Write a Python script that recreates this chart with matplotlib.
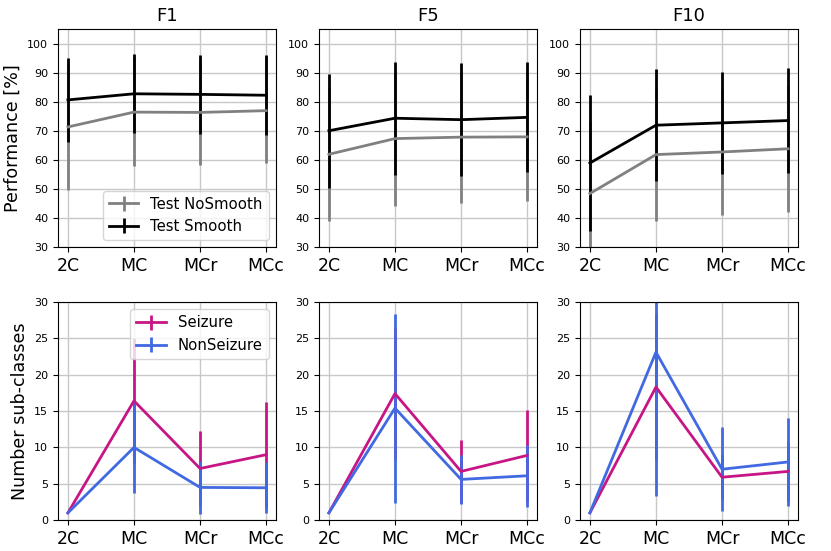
import matplotlib
matplotlib.use("Agg")
import matplotlib.pyplot as plt
import numpy as np

categories = ["2C", "MC", "MCr", "MCc"]
titles = ["F1", "F5", "F10"]

# Performance (top row): mean and std for each panel
nosmooth_mean = [[71.4, 76.5, 76.4, 77.0],
                 [62.0, 67.4, 67.9, 68.0],
                 [48.5, 61.9, 62.8, 63.9]]
nosmooth_err = [[21.5, 18.5, 18.0, 18.0],
                [23.0, 23.0, 22.6, 22.0],
                [25.0, 22.7, 21.8, 21.6]]
smooth_mean = [[80.7, 82.8, 82.6, 82.3],
               [70.1, 74.4, 73.9, 74.7],
               [59.0, 72.0, 72.8, 73.6]]
smooth_err = [[14.5, 13.6, 13.5, 13.8],
              [19.6, 19.4, 19.4, 18.9],
              [23.5, 19.3, 17.5, 18.0]]

# Number of sub-classes (bottom row)
seiz_mean = [[1.0, 16.4, 7.1, 9.0],
             [1.0, 17.4, 6.7, 8.9],
             [1.0, 18.3, 5.9, 6.7]]
seiz_err = [[0.0, 8.7, 5.1, 7.3],
            [0.0, 9.0, 4.3, 6.3],
            [0.0, 10.0, 3.0, 4.0]]
nonseiz_mean = [[1.0, 10.0, 4.5, 4.45],
                [1.0, 15.4, 5.6, 6.1],
                [1.0, 23.1, 7.0, 8.0]]
nonseiz_err = [[0.0, 6.2, 3.6, 3.5],
               [0.0, 13.0, 3.4, 4.3],
               [0.0, 19.8, 5.8, 6.0]]

fig, axes = plt.subplots(2, 3, figsize=(8.31, 5.51), dpi=100)
fig.subplots_adjust(left=0.0698, right=0.9603, top=0.947, bottom=0.056,
                    wspace=0.197, hspace=0.25)

x = np.arange(len(categories))
for i in range(3):
    ax = axes[0, i]
    ax.errorbar(x, nosmooth_mean[i], yerr=nosmooth_err[i], color="gray",
                lw=2, elinewidth=2, label="Test NoSmooth")
    ax.errorbar(x, smooth_mean[i], yerr=smooth_err[i], color="black",
                lw=2, elinewidth=2, label="Test Smooth")
    ax.set_ylim(30, 105)
    ax.set_yticks(range(30, 101, 10))
    ax.set_xticks(x)
    ax.set_xticklabels(categories, fontsize=12.5)
    ax.tick_params(axis="y", labelsize=8)
    ax.grid(True, color="#c8c8c8", lw=1)
    ax.set_axisbelow(True)
    ax.set_title(titles[i], fontsize=13)
    if i == 0:
        ax.set_ylabel("Performance [%]", fontsize=12.6)
        ax.legend(loc="lower right", fontsize=10.7)

    ax = axes[1, i]
    ax.errorbar(x, seiz_mean[i], yerr=seiz_err[i], color="mediumvioletred",
                lw=2, elinewidth=2, label="Seizure")
    ax.errorbar(x, nonseiz_mean[i], yerr=nonseiz_err[i], color="royalblue",
                lw=2, elinewidth=2, label="NonSeizure")
    ax.set_ylim(0, 30)
    ax.set_yticks(range(0, 31, 5))
    ax.set_xticks(x)
    ax.set_xticklabels(categories, fontsize=12.5)
    ax.tick_params(axis="y", labelsize=8)
    ax.grid(True, color="#c8c8c8", lw=1)
    ax.set_axisbelow(True)
    if i == 0:
        ax.set_ylabel("Number sub-classes", fontsize=12.6)
        ax.legend(loc="upper right", fontsize=10.7)

fig.savefig("out.png", dpi=100)
